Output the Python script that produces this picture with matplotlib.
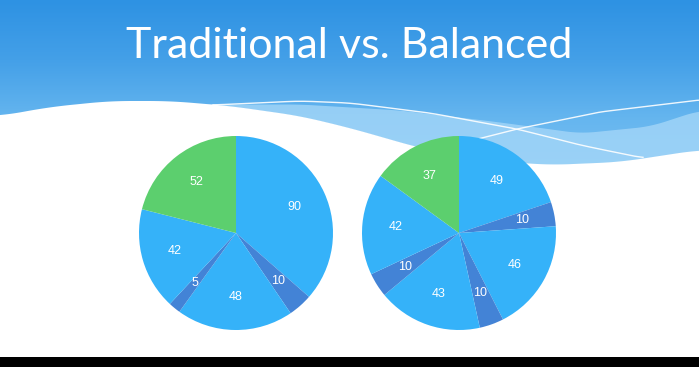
import numpy as np
import matplotlib
matplotlib.use('Agg')
import matplotlib.pyplot as plt
from matplotlib.colors import LinearSegmentedColormap

title = "Traditional vs. Balanced"

trad_values = [90, 10, 48, 5, 42, 52]
trad_kinds = ['main', 'minor', 'main', 'minor', 'main', 'green']

bal_values = [49, 10, 46, 10, 43, 10, 42, 37]
bal_kinds = ['main', 'minor', 'main', 'minor', 'main', 'minor', 'main', 'green']

palette = {'main': '#35b2f9', 'minor': '#4383d6', 'green': '#5ccf6e'}

W, H = 699, 367
fig = plt.figure(figsize=(W/100., H/100.), dpi=100)

# background: gradient sky + white wave
bg = fig.add_axes([0, 0, 1, 1])
bg.set_xlim(0, W)
bg.set_ylim(H, 0)
bg.axis('off')

sky = LinearSegmentedColormap.from_list('sky', ['#2e92e3', '#44a0e8', '#66b6ef', '#7cc2f2'])
grad = np.linspace(0, 1, 200).reshape(-1, 1)
bg.imshow(grad, cmap=sky, extent=[0, W, 180, 0], aspect='auto', zorder=0)

def smooth_curve(pts, n=400):
    px, py = zip(*pts)
    xs = np.linspace(px[0], px[-1], n)
    ys = np.interp(xs, px, py)
    k = np.ones(25) / 25.
    ys = np.convolve(np.pad(ys, 12, mode='edge'), k, mode='valid')
    return xs, ys

# light band
bx, by = smooth_curve([(200, 104), (300, 104), (400, 110), (500, 122), (580, 133),
                       (650, 126), (699, 110)])
wx, wy = smooth_curve([(0, 116), (50, 107), (110, 101), (170, 101), (230, 106), (300, 116),
                       (350, 128), (420, 148), (480, 160), (550, 165), (620, 162), (699, 150)])
bg.fill_between(bx, by, np.interp(bx, wx, wy), color='#a3d6f8', alpha=0.8, lw=0, zorder=1)
bg.fill_between(wx, wy, 400, color='white', lw=0, zorder=2)

l1x, l1y = smooth_curve([(213, 105), (300, 101), (350, 103), (430, 113), (517, 129),
                         (580, 145), (643, 158)])
l2x, l2y = smooth_curve([(470, 141), (517, 129), (600, 112), (699, 100)])
bg.plot(l1x, l1y, color='white', lw=1.0, alpha=0.9, zorder=3)
bg.plot(l2x, l2y, color='white', lw=1.0, alpha=0.9, zorder=3)

# black strip at bottom
bg.fill_between([0, W], 357, H, color='black', lw=0, zorder=4)

bg.text(W/2., 46, title, ha='center', va='center', color='white',
        fontsize=31, family='Lato', zorder=5)

def draw_pie(cx, cy, r, values, kinds):
    ax = fig.add_axes([(cx - r)/W, (H - cy - r)/H, 2*r/W, 2*r/H])
    ax.pie(values, colors=[palette[k] for k in kinds], startangle=90, counterclock=False,
           labels=[str(v) for v in values], labeldistance=0.66,
           wedgeprops=dict(linewidth=0),
           textprops=dict(color='white', fontsize=9, family='Liberation Sans', ha='center', va='center'))
    ax.set_xlim(-1, 1)
    ax.set_ylim(-1, 1)
    return ax

draw_pie(236, 233, 97, trad_values, trad_kinds)
draw_pie(459, 233, 97, bal_values, bal_kinds)

fig.savefig('out.png', dpi=100)
